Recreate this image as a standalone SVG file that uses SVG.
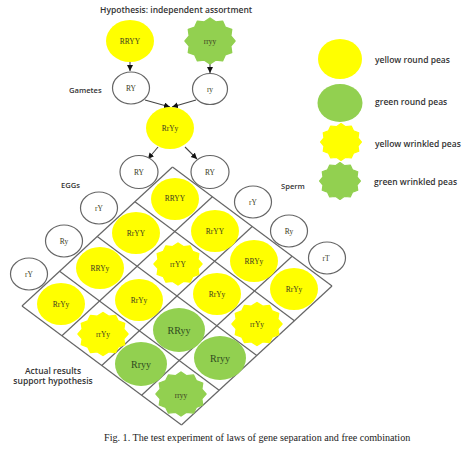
<svg xmlns="http://www.w3.org/2000/svg" width="474" height="449" viewBox="0 0 474 449">
<style>
.y{fill:#ffff00}.g{fill:#92d050}
.sy{fill:#ffff00;stroke:#ffff00;stroke-width:.06;stroke-linejoin:round}.sg{fill:#92d050;stroke:#92d050;stroke-width:.06;stroke-linejoin:round}
.w{fill:#fff;stroke:#666;stroke-width:1.2}
.c{font-family:"Liberation Serif",serif;font-size:7.5px;fill:#3a3a20;text-anchor:middle}
.cb{font-family:"Liberation Serif",serif;font-size:10px;fill:#2f4a20;text-anchor:middle}
.l{font-family:"Open Sans",sans-serif;font-size:8.5px;font-weight:600;fill:#333}
.t{font-size:7.6px}
.m{text-anchor:middle}
.grid line{stroke:#666;stroke-width:1.2}
.arrows line{stroke:#444;stroke-width:1.1;marker-end:url(#a)}
</style>
<defs>
<marker id="a" markerUnits="userSpaceOnUse" markerWidth="7" markerHeight="7" refX="6" refY="3" orient="auto"><path d="M0 0L6 3L0 6Z" fill="#111"/></marker>
<path id="s" d="M0-1L.223-.831L.5-.866L.608-.608L.866-.5L.831-.223L1 0L.831.223L.866.5L.608.608L.5.866L.223.831L0 1L-.223.831L-.5.866L-.608.608L-.866.5L-.831.223L-1 0L-.831-.223L-.866-.5L-.608-.608L-.5-.866L-.223-.831Z"/>
</defs>
<rect width="474" height="449" fill="#fff"/>
<text class="l" x="100" y="13">Hypothesis: independent assortment</text>
<text class="l t" x="69" y="93">Gametes</text>
<text class="l t" x="61" y="188">EGGs</text>
<text class="l t" x="281" y="189">Sperm</text>
<text class="l m" x="53" y="374">Actual results</text>
<text class="l m" x="53" y="384">support hypothesis</text>
<g id="grid" class="grid">
<line x1="172.5" y1="167" x2="332" y2="286"/><line x1="134.9" y1="201.75" x2="294.4" y2="320.75"/><line x1="97.25" y1="236.5" x2="256.75" y2="355.5"/><line x1="59.6" y1="271.25" x2="219.1" y2="390.25"/><line x1="22" y1="306" x2="181.5" y2="425"/>
<line x1="172.5" y1="167" x2="22" y2="306"/><line x1="212.4" y1="196.75" x2="61.9" y2="335.75"/><line x1="252.25" y1="226.5" x2="101.75" y2="365.5"/><line x1="292.1" y1="256.25" x2="141.6" y2="395.25"/><line x1="332" y1="286" x2="181.5" y2="425"/>
</g>
<g id="connectors" class="arrows">
<line x1="130" y1="62" x2="130" y2="71"/><line x1="210" y1="62" x2="210" y2="73"/>
<line x1="145" y1="100" x2="170" y2="107"/><line x1="196" y1="100" x2="172" y2="107"/>
<line x1="158" y1="147" x2="148" y2="159"/><line x1="185" y1="147" x2="197" y2="159"/>
</g>
<g id="n-RRYY-p"><ellipse class="y" cx="130" cy="41" rx="24" ry="21"/><text class="c" x="130" y="44">RRYY</text></g>
<g id="n-rryy-p"><use href="#s" class="sg" transform="translate(210 41) scale(25 23)"/><text class="c" x="210" y="44">rryy</text></g>
<g id="n-g1"><ellipse class="w" cx="131" cy="88" rx="18.5" ry="16"/><text class="c" x="131" y="91">RY</text></g>
<g id="n-g2"><ellipse class="w" cx="210" cy="89" rx="17.5" ry="15.5"/><text class="c" x="210" y="92">ry</text></g>
<g id="n-F1"><ellipse class="y" cx="170" cy="128" rx="24" ry="21"/><text class="c" x="170" y="131">RrYy</text></g>
<g id="n-e1"><ellipse class="w" cx="139" cy="172" rx="19" ry="16.5"/><text class="c" x="139" y="175">RY</text></g>
<g id="n-s1"><ellipse class="w" cx="210" cy="172" rx="19" ry="16.5"/><text class="c" x="210" y="175">RY</text></g>
<g id="n-e2"><ellipse class="w" cx="99" cy="208" rx="18.5" ry="16"/><text class="c" x="99" y="211">rY</text></g>
<g id="n-e3"><ellipse class="w" cx="64" cy="241" rx="18.5" ry="16"/><text class="c" x="64" y="244">Ry</text></g>
<g id="n-e4"><ellipse class="w" cx="29" cy="274" rx="18.5" ry="16"/><text class="c" x="29" y="277">rY</text></g>
<g id="n-s2"><ellipse class="w" cx="253" cy="202" rx="18.5" ry="16"/><text class="c" x="253" y="205">rY</text></g>
<g id="n-s3"><ellipse class="w" cx="289" cy="231" rx="18.5" ry="16"/><text class="c" x="289" y="234">Ry</text></g>
<g id="n-s4"><ellipse class="w" cx="327" cy="258" rx="18.5" ry="16"/><text class="c" x="326" y="261">rT</text></g>
<g id="c1"><ellipse class="y" cx="175" cy="199" rx="24" ry="21"/><text class="c" x="175" y="201">RRYY</text></g>
<g id="c2"><ellipse class="y" cx="136" cy="233" rx="24" ry="21"/><text class="c" x="136" y="236">RrYY</text></g>
<g id="c3"><ellipse class="y" cx="215" cy="231" rx="24" ry="21"/><text class="c" x="215" y="234">RrYY</text></g>
<g id="c4"><ellipse class="y" cx="100" cy="268" rx="24" ry="21"/><text class="c" x="100" y="271">RRYy</text></g>
<g id="c5"><use href="#s" class="sy" transform="translate(178 264) scale(24 21)"/><text class="c" x="178" y="267">rrYY</text></g>
<g id="c6"><ellipse class="y" cx="254" cy="261" rx="24" ry="21"/><text class="c" x="254" y="264">RRYy</text></g>
<g id="c7"><ellipse class="y" cx="61" cy="304" rx="24" ry="21"/><text class="c" x="61" y="307">RrYy</text></g>
<g id="c8"><ellipse class="y" cx="139" cy="300" rx="24" ry="21"/><text class="c" x="139" y="303">RrYy</text></g>
<g id="c9"><ellipse class="y" cx="217" cy="294" rx="24" ry="21"/><text class="c" x="217" y="297">RrYy</text></g>
<g id="c10"><ellipse class="y" cx="294" cy="289" rx="24" ry="21"/><text class="c" x="294" y="292">RrYy</text></g>
<g id="c11"><use href="#s" class="sy" transform="translate(103 334) scale(25 21.5)"/><text class="c" x="103" y="337">rrYy</text></g>
<g id="c12"><ellipse class="g" cx="179" cy="330" rx="26" ry="22"/><text class="cb" x="179" y="334">RRyy</text></g>
<g id="c13"><use href="#s" class="sy" transform="translate(257 324) scale(25 21.5)"/><text class="c" x="257" y="327">rrYy</text></g>
<g id="c14"><ellipse class="g" cx="141" cy="364" rx="26" ry="22"/><text class="cb" x="141" y="368">Rryy</text></g>
<g id="c15"><ellipse class="g" cx="220" cy="358" rx="26" ry="22"/><text class="cb" x="220" y="362">Rryy</text></g>
<g id="c16"><use href="#s" class="sg" transform="translate(181 394) scale(25 22)"/><text class="c" x="181" y="398">rryy</text></g>
<g id="legend1"><ellipse class="y" cx="340" cy="59" rx="22" ry="20"/><text class="l" x="375" y="63">yellow round peas</text></g>
<g id="legend2"><ellipse class="g" cx="340" cy="103" rx="22.5" ry="19"/><text class="l" x="375" y="105">green round peas</text></g>
<g id="legend3"><use href="#s" class="sy" transform="translate(341 142) scale(20.5 18.5)"/><text class="l" x="375" y="147">yellow wrinkled peas</text></g>
<g id="legend4"><use href="#s" class="sg" transform="translate(340 181) scale(20.5 18.5)"/><text class="l" x="374" y="185">green wrinkled peas</text></g>
<text x="104" y="441" font-family="'Liberation Serif',serif" font-size="10.15" fill="#222">Fig. 1. The test experiment of laws of gene separation and free combination</text>
</svg>
